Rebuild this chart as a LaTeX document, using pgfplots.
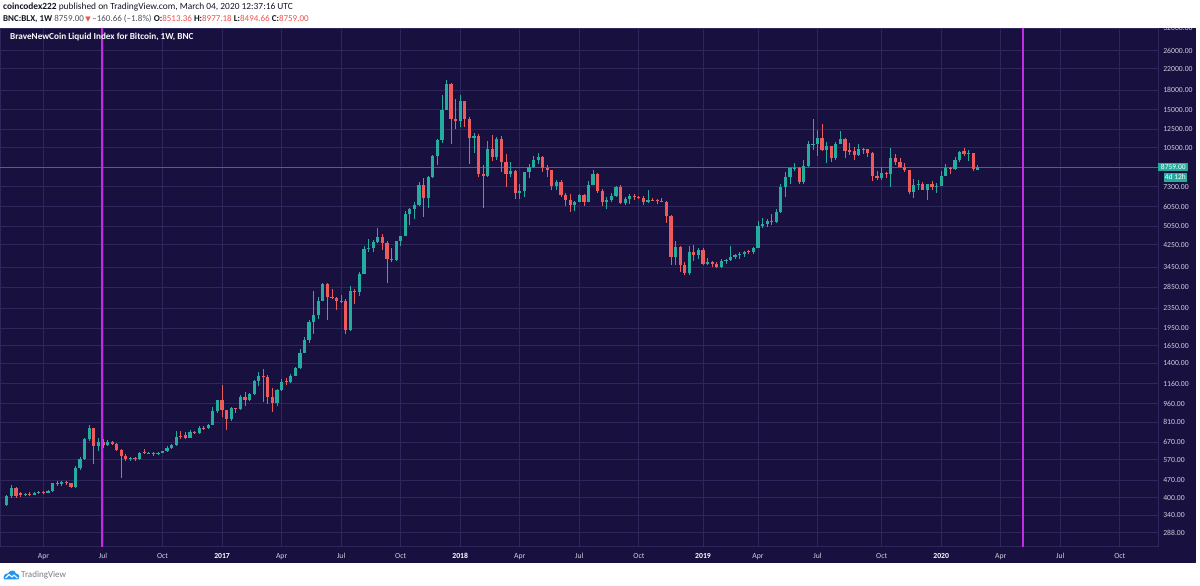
\documentclass[border=0pt]{standalone}
\usepackage{pgfplots}
\pgfplotsset{compat=1.18}
\usepackage{pgfplotstable}
\usepackage{fontspec}
\setmainfont{Carlito}
\newfontfamily\dejavu{DejaVu Sans}
\definecolor{bgc}{HTML}{18113F}
\definecolor{gridc}{HTML}{2D275C}
\definecolor{upc}{HTML}{26AC9E}
\definecolor{dnc}{HTML}{EC5A5C}
\definecolor{purp}{HTML}{C62AE6}
\definecolor{lblc}{HTML}{CDCFDD}
\definecolor{pricec}{HTML}{2F7483}
\definecolor{hdr}{HTML}{131722}
\definecolor{hdrg}{HTML}{50535E}
\definecolor{hred}{HTML}{EF5350}
\definecolor{tvblue}{HTML}{2196F3}
\definecolor{tvgray}{HTML}{787B86}

% w = weeks since Monday 2018-01-01 ; weekly OHLC
\pgfplotstableread[row sep=\\]{
w o h l c\\
-99 373 410 370 407\\
-98 407 448 400 438\\
-97 438 442 398 405\\
-96 416 420 402 410\\
-95 410 418 405 414\\
-94 414 420 406 411\\
-93 411 420 408 417\\
-92 417 425 412 421\\
-91 421 426 414 418\\
-90 418 430 416 425\\
-89 425 452 423 460\\
-88 460 468 446 455\\
-87 455 465 445 461\\
-86 461 465 448 457\\
-85 457 460 436 442\\
-84 442 535 438 527\\
-83 527 585 520 575\\
-82 575 700 570 690\\
-81 690 785 680 765\\
-80 765 770 550 645\\
-79 645 700 620 670\\
-78 670 690 635 655\\
-77 655 682 645 673\\
-76 673 680 655 662\\
-75 662 665 618 625\\
-74 625 630 480 588\\
-73 588 600 565 572\\
-72 572 585 565 580\\
-71 580 585 565 572\\
-70 572 612 570 606\\
-69 612 628 600 606\\
-68 606 612 600 609\\
-67 609 612 592 603\\
-66 603 612 598 609\\
-65 609 620 605 617\\
-64 617 645 615 638\\
-63 638 660 630 655\\
-62 655 745 650 705\\
-61 712 745 690 702\\
-60 715 740 690 700\\
-59 700 755 695 740\\
-58 740 748 728 733\\
-57 733 780 728 768\\
-56 770 780 755 765\\
-55 765 795 760 790\\
-54 790 935 788 895\\
-53 895 1000 885 1000\\
-52 1000 1150 850 905\\
-51 905 910 750 830\\
-50 830 935 820 920\\
-49 920 925 885 915\\
-48 915 1040 910 1020\\
-47 1020 1075 940 1000\\
-46 1000 1060 985 1050\\
-45 1050 1200 1040 1190\\
-44 1190 1290 1130 1240\\
-43 1240 1330 975 1230\\
-42 1230 1260 960 1020\\
-41 1020 1110 890 965\\
-40 965 1100 940 1090\\
-39 1090 1210 1080 1180\\
-38 1185 1220 1150 1175\\
-37 1175 1270 1170 1250\\
-36 1250 1350 1240 1340\\
-35 1340 1600 1330 1550\\
-34 1550 1800 1540 1750\\
-33 1750 2100 1700 2060\\
-32 2060 2760 1850 2200\\
-31 2200 2600 2130 2520\\
-30 2520 2980 2500 2950\\
-29 2950 2980 2100 2600\\
-28 2600 2800 2550 2580\\
-27 2580 2600 2300 2500\\
-26 2500 2650 2470 2510\\
-25 2510 2550 1840 1920\\
-24 1920 2900 1900 2750\\
-23 2750 2820 2450 2740\\
-22 2740 3300 2620 3230\\
-21 3230 4200 3230 4070\\
-20 4070 4480 3960 4100\\
-19 4100 4420 3950 4350\\
-18 4350 4980 4300 4550\\
-17 4550 4700 4050 4320\\
-16 4320 4400 2980 3700\\
-15 3700 4100 3600 3670\\
-14 3670 4400 3650 4380\\
-13 4380 4620 4200 4600\\
-12 4600 5800 4600 5650\\
-11 5650 6000 5100 5950\\
-10 5950 6300 5400 6150\\
-9 6150 7600 6100 7400\\
-8 7400 7900 5500 6550\\
-7 6550 8100 6000 8000\\
-6 8000 9800 7900 9700\\
-5 9700 11400 8900 11300\\
-4 11300 17200 11000 15000\\
-3 15000 19800 14900 19000\\
-2 19000 19300 10900 13800\\
-1 13800 16500 12500 13500\\
0 13500 17200 12800 16200\\
1 16200 16300 12800 13700\\
2 13700 14000 9000 11500\\
3 11500 12000 10000 11700\\
4 11700 11900 8000 8200\\
5 8200 8900 6000 8100\\
6 8100 11200 8000 10400\\
7 10400 11800 9300 9600\\
8 9600 11600 9400 11400\\
9 11400 11700 8400 9200\\
10 9200 9900 7300 8200\\
11 8200 9200 8000 8450\\
12 8450 8500 6500 6900\\
13 6900 7500 6500 7000\\
14 7000 8400 6600 8350\\
15 8350 9000 7900 8800\\
16 8800 9750 8700 9350\\
17 9350 9990 9050 9650\\
18 9650 9700 8400 8700\\
19 8700 8900 8000 8500\\
20 8500 8550 7100 7350\\
21 7350 7750 7100 7650\\
22 7650 7800 6650 6750\\
23 6750 6900 6100 6450\\
24 6450 6800 5750 6150\\
25 6150 6400 5800 6350\\
26 6350 6800 6300 6750\\
27 6750 6800 6100 6350\\
28 6350 7700 6300 7400\\
29 7400 8500 7400 8200\\
30 8200 8300 6900 7000\\
31 7000 7150 6100 6300\\
32 6300 6600 5900 6450\\
33 6450 6900 6300 6700\\
34 6700 7350 6650 7300\\
35 7300 7400 6200 6250\\
36 6250 6600 6150 6500\\
37 6500 6800 6200 6700\\
38 6700 6800 6450 6600\\
39 6600 6700 6500 6550\\
40 6550 6700 6150 6300\\
41 6300 7100 6250 6450\\
42 6455 6550 6400 6440\\
43 6440 6500 6200 6400\\
44 6400 6550 6300 6350\\
45 6350 6400 5200 5550\\
46 5550 5600 3500 3800\\
47 3800 4400 3500 4150\\
48 4150 4200 3300 3500\\
49 3500 3600 3200 3250\\
50 3250 4200 3200 3950\\
51 3950 4250 3650 3850\\
52 3850 4100 3700 4050\\
53 4050 4100 3500 3550\\
54 3550 3750 3500 3600\\
55 3600 3650 3450 3550\\
56 3550 3600 3400 3450\\
57 3450 3700 3400 3650\\
58 3650 3700 3550 3680\\
59 3680 4200 3650 3800\\
60 3800 3900 3700 3850\\
61 3850 3950 3700 3900\\
62 3900 4000 3800 3980\\
63 3990 4050 3900 3970\\
64 3970 4150 3900 4100\\
65 4100 5300 4100 5050\\
66 5050 5450 4950 5150\\
67 5150 5400 5000 5300\\
68 5300 5650 5100 5250\\
69 5250 5900 5200 5750\\
70 5750 7500 5700 7250\\
71 7250 8400 6600 8000\\
72 8000 8800 7500 8700\\
73 8700 9100 8450 8720\\
74 8720 8800 7500 7650\\
75 7650 9400 7500 8850\\
76 8850 11200 8800 10850\\
77 10850 13800 10300 10900\\
78 10900 12400 9700 11500\\
79 11500 13100 10200 10300\\
80 10300 11100 9100 10650\\
81 10650 10700 9200 9500\\
82 9500 11100 9400 10900\\
83 10900 12300 10900 11400\\
84 11400 11500 9500 10200\\
85 10300 10950 9850 10100\\
86 10150 10600 9350 9800\\
87 9800 10900 9750 10400\\
88 10400 10450 9950 10350\\
89 10350 10350 9600 10000\\
90 10000 10050 7700 8050\\
91 8050 8450 7750 7900\\
92 7900 8800 7800 8300\\
93 8300 8400 7900 8250\\
94 8250 10500 7300 9550\\
95 9550 9900 8900 9200\\
96 9200 9500 8700 8800\\
97 8800 9100 8350 8500\\
98 8500 8500 6800 6950\\
99 6950 7850 6550 7400\\
100 7400 7800 7100 7500\\
101 7500 7650 7050 7100\\
102 7100 7500 6450 7500\\
103 7500 7700 7100 7300\\
104 7300 7550 6900 7350\\
105 7350 8450 7350 8100\\
106 8100 9000 8050 8700\\
107 8700 8750 8250 8600\\
108 8600 9600 8550 9400\\
109 9400 10150 9150 10100\\
110 10150 10500 9700 9900\\
111 9900 10250 9300 9960\\
112 9960 9990 8450 8600\\
113 8513.36 8977.18 8494.66 8759\\
}\btc

\begin{document}
\begin{tikzpicture}[x=1pt,y=1pt]
\path[use as bounding box] (0,0) rectangle (1200,586);
\fill[white] (0,0) rectangle (1200,586);
\fill[bgc] (0,23.3) rectangle (1196,558.3);
\begin{axis}[
  at={(0pt,39.3pt)}, anchor=south west,
  scale only axis, width=1158.3pt, height=519pt,
  xmin=-100.48, xmax=152.4,
  ymode=log, ymin=252.9, ymax=32235,
  axis line style={draw=gridc, line width=0.8pt},
  grid=major, major grid style={draw=gridc, line width=0.8pt},
  major tick length=0pt,
  xtick={-91,-78,-65,-52,-39,-26,-13,0,13,26,39,53,65,78,92,105,118,131,144},
  xticklabels={Apr,Jul,Oct,\textcolor{white}{\textbf{2017}},Apr,Jul,Oct,\textcolor{white}{\textbf{2018}},Apr,Jul,Oct,\textcolor{white}{\textbf{2019}},Apr,Jul,Oct,\textcolor{white}{\textbf{2020}},Apr,Jul,Oct},
  ytick={288,340,400,470,570,670,810,960,1160,1400,1650,1950,2350,2850,3450,4250,5050,6050,7300,10500,12500,15000,18000,22000,26000,32000},
  yticklabels={288.00,340.00,400.00,470.00,570.00,670.00,810.00,960.00,1160.00,1400.00,1650.00,1950.00,2350.00,2850.00,3450.00,4250.00,5050.00,6050.00,7300.00,10500.00,12500.00,15000.00,18000.00,22000.00,26000.00,32000.00},
  yticklabel pos=right,
  yticklabel style={anchor=west, xshift=1.5pt, font=\fontsize{7.7}{8}\selectfont, text=lblc},
  xticklabel style={anchor=base, yshift=-12pt, font=\fontsize{7.7}{8}\selectfont, text=lblc},
  clip=true,
]
\addplot[color=pricec, line width=0.9pt, forget plot] coordinates {(-101,8759) (153,8759)};
\pgfplotstablegetrowsof{\btc}
\pgfmathtruncatemacro{\lastrow}{\pgfplotsretval-1}
\pgfplotsinvokeforeach{0,...,\lastrow}{%
  \pgfplotstablegetelem{#1}{w}\of\btc\edef\cndW{\pgfplotsretval}%
  \pgfplotstablegetelem{#1}{o}\of\btc\edef\cndO{\pgfplotsretval}%
  \pgfplotstablegetelem{#1}{h}\of\btc\edef\cndH{\pgfplotsretval}%
  \pgfplotstablegetelem{#1}{l}\of\btc\edef\cndL{\pgfplotsretval}%
  \pgfplotstablegetelem{#1}{c}\of\btc\edef\cndC{\pgfplotsretval}%
  \ifnum\fpeval{\cndC<\cndO}=1 \def\cndCol{dnc}\else\def\cndCol{upc}\fi
  \edef\cndTmp{\noexpand\addplot[color=\cndCol, line width=0.8pt, forget plot] coordinates {(\cndW,\cndL) (\cndW,\cndH)};%
    \noexpand\addplot[color=\cndCol, line width=3.2pt, forget plot] coordinates {(\cndW,\cndO) (\cndW,\cndC)};}%
  \cndTmp
}
\addplot[color=purp, line width=2pt, forget plot] coordinates {(-78.3,200) (-78.3,40000)};
\addplot[color=purp, line width=2pt, forget plot] coordinates {(122.9,200) (122.9,40000)};
\end{axis}
% header
\fill[white] (0,558.3) rectangle (1200,586);
\node[anchor=west, inner sep=0, text=hdr, font=\fontsize{9.4}{11}\selectfont] at (3,579)
  {\textbf{coincodex222} published on TradingView.com, March 04, 2020 12:37:16 UTC};
\node[anchor=west, inner sep=0, text=hdr, font=\fontsize{9}{10}\selectfont] at (3,567)
  {\textbf{BNC:BLX, 1W} \textcolor{hdrg}{8759.00}\,{\dejavu\fontsize{7}{7}\selectfont\textcolor{hred}{▼}}\,\textcolor{hdrg}{–160.66 (–1.8\%)} \textbf{O:}\textcolor{hred}{8513.36} \textbf{H:}\textcolor{hred}{8977.18} \textbf{L:}\textcolor{hred}{8494.66} \textbf{C:}\textcolor{hred}{8759.00}};
% title
\node[anchor=west, inner sep=0, text=white!90!lblc, font=\bfseries\fontsize{9.2}{10}\selectfont] at (10,549)
  {BraveNewCoin Liquid Index for Bitcoin, 1W, BNC};
% price markers
\fill[upc] (1158.3,415.3) rectangle (1188.3,422.7);
\node[text=white, inner sep=0, font=\fontsize{7.5}{8}\selectfont] at (1173.3,419) {8759.00};
\fill[upc] (1164,404.3) rectangle (1186.7,413.3);
\node[text=white, inner sep=0, font=\fontsize{7.5}{8}\selectfont] at (1175.3,408.8) {4d 12h};
% logo
\fill[tvblue] (4,6.5) .. controls (2.5,10) and (5.5,13) .. (8,12.5) .. controls (10,16.5) and (15,16.5) .. (16,12.5) .. controls (19.5,12.5) and (20.5,7.5) .. (18,6.5) -- cycle;
\draw[white, line width=1.1pt, line join=round] (5.5,8) -- (9,11.5) -- (12,9) -- (14,11) -- (17.5,7.8);
\node[anchor=west, inner sep=0, text=tvgray, font=\fontsize{9}{10}\selectfont] at (21,10.5) {TradingView};
\end{tikzpicture}
\end{document}
